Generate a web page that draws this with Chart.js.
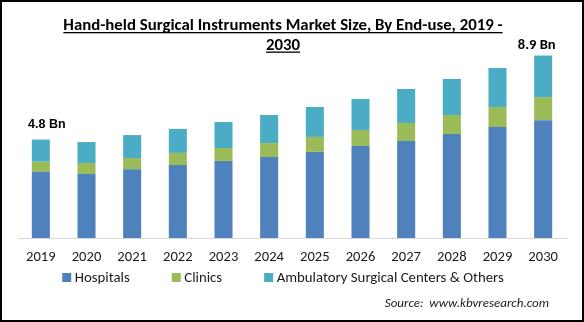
<!DOCTYPE html>
<html>
<head>
<meta charset="utf-8">
<script src="https://cdn.jsdelivr.net/npm/chart.js@4.4.0/dist/chart.umd.min.js"></script>
<style>
  html, body { margin: 0; padding: 0; background: #fff; }
  .frame { position: relative; width: 584px; height: 322px; }
  .frame::after { content: ''; position: absolute; inset: 0; border: 2px solid #000; pointer-events: none; }
  canvas { display: block; }
</style>
</head>
<body>
<div class="frame"><canvas id="marketChart" width="584" height="322"></canvas></div>
<script>
// Market size in USD Bn, split by end-use
const years = ['2019', '2020', '2021', '2022', '2023', '2024', '2025', '2026', '2027', '2028', '2029', '2030']
const hospitals = [3.23, 3.12, 3.35, 3.56, 3.76, 3.95, 4.20, 4.49, 4.73, 5.07, 5.41, 5.75]
const clinics = [0.49, 0.54, 0.55, 0.59, 0.63, 0.68, 0.73, 0.78, 0.88, 0.93, 0.98, 1.12]
const ambulatory = [1.08, 1.02, 1.12, 1.17, 1.27, 1.37, 1.46, 1.51, 1.66, 1.76, 1.90, 2.03]
const seriesNames = ['Hospitals', 'Clinics', 'Ambulatory Surgical Centers & Others']
const seriesColors = ['#4f81bd', '#9bbb59', '#4bacc6']
const totalLabelYears = ['2019', '2030']

const titleLines = ['Hand-held Surgical Instruments Market Size, By End-use, 2019 -', '2030']
const sourceText = 'Source:  www.kbvresearch.com'

const FONT = 'Calibri, Carlito, "Open Sans", sans-serif'

// two line title, underlined like a hyperlink
const titlePlugin = {
  id: 'underlinedTitle',
  afterDraw(chart) {
    const ctx = chart.ctx
    const cx = 283
    ctx.save()
    ctx.font = 'bold 16.8px ' + FONT
    ctx.fillStyle = '#000'
    ctx.textAlign = 'center'
    ctx.textBaseline = 'alphabetic'
    titleLines.forEach((line, i) => {
      const y = 30 + i * 19.5
      ctx.fillText(line, cx, y)
      const w = ctx.measureText(line).width
      ctx.fillRect(cx - w / 2, y + 2, w, 1.3)
    })
    ctx.restore()
  },
}

// legend row built from the datasets
const legendPlugin = {
  id: 'bottomLegend',
  afterDraw(chart) {
    const ctx = chart.ctx
    const box = 9
    const gap = 3.5
    const spacing = 42
    const y = 277.5
    ctx.save()
    ctx.font = '14.8px ' + FONT
    ctx.textBaseline = 'middle'
    ctx.textAlign = 'left'
    const items = chart.data.datasets.map((ds) => ({
      label: ds.label,
      color: ds.backgroundColor,
      w: box + gap + ctx.measureText(ds.label).width,
    }))
    const total = items.reduce((s, it) => s + it.w, 0) + spacing * (items.length - 1)
    let x = 283 - total / 2
    items.forEach((it) => {
      ctx.fillStyle = it.color
      ctx.fillRect(x, y - box / 2, box, box)
      ctx.fillStyle = '#1a1a1a'
      ctx.fillText(it.label, x + box + gap, y + 0.5)
      x += it.w + spacing
    })

    ctx.font = 'italic 13px ' + FONT
    ctx.textAlign = 'right'
    ctx.fillStyle = '#1a1a1a'
    ctx.fillText(sourceText, 549, 304)
    ctx.restore()
  },
}

// total value written above the first and last stacks
const totalsPlugin = {
  id: 'stackTotals',
  afterDatasetsDraw(chart) {
    const ctx = chart.ctx
    const topMeta = chart.getDatasetMeta(chart.data.datasets.length - 1)
    const styles = {
      '2019': { font: 'bold 12.5px "Liberation Sans", Arial, sans-serif', dx: 6, dy: -15 },
      '2030': { font: 'bold 14.5px ' + FONT, dx: -6.5, dy: -10 },
    }
    ctx.save()
    ctx.fillStyle = '#000'
    ctx.textAlign = 'center'
    ctx.textBaseline = 'middle'
    totalLabelYears.forEach((yr) => {
      const i = years.indexOf(yr)
      const total = chart.data.datasets.reduce((s, ds) => s + ds.data[i], 0)
      const bar = topMeta.data[i]
      const st = styles[yr]
      ctx.font = st.font
      ctx.fillText(total.toFixed(1) + ' Bn', bar.x + st.dx, bar.y + st.dy)
    })
    ctx.restore()
  },
}

const ctx = document.getElementById('marketChart').getContext('2d')
const marketChart = new Chart(ctx, {
  type: 'bar',
  data: {
    labels: years,
    datasets: [
      { label: seriesNames[0], data: hospitals, backgroundColor: seriesColors[0] },
      { label: seriesNames[1], data: clinics, backgroundColor: seriesColors[1] },
      { label: seriesNames[2], data: ambulatory, backgroundColor: seriesColors[2] },
    ],
  },
  options: {
    responsive: false,
    animation: false,
    devicePixelRatio: 1,
    layout: { padding: { left: 18, right: 18, top: 33, bottom: 60 } },
    datasets: {
      bar: { barPercentage: 0.395, categoryPercentage: 1, borderWidth: 0 },
    },
    scales: {
      x: {
        stacked: true,
        grid: { display: false, drawTicks: false },
        border: { display: true, color: '#d9d9d9', width: 1 },
        ticks: {
          color: '#1a1a1a',
          padding: 11,
          maxRotation: 0,
          autoSkip: false,
          font: { family: FONT, size: 14.6 },
        },
        afterFit(scale) {
          scale.height = 24
        },
      },
      y: {
        stacked: true,
        display: false,
        min: 0,
        max: 10,
      },
    },
    plugins: {
      legend: { display: false },
      title: { display: false },
      tooltip: { enabled: false },
    },
  },
  plugins: [titlePlugin, legendPlugin, totalsPlugin],
})
</script>
</body>
</html>
